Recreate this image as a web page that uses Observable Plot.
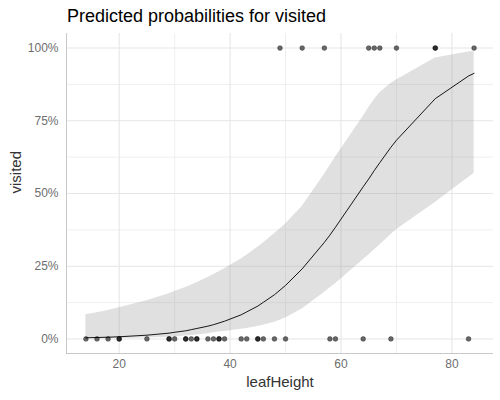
<!DOCTYPE html>
<html>
<head>
<meta charset="utf-8">
<script src="https://cdn.jsdelivr.net/npm/d3@7"></script>
<script src="https://cdn.jsdelivr.net/npm/@observablehq/plot@0.6"></script>
<style>
  html, body { margin: 0; padding: 0; background: #fff; }
  #title { box-sizing: border-box; height: 28px; padding: 7px 0 0 67px; font: 18px/18px "Liberation Sans", Arial, sans-serif; color: #000; }
  svg { display: block; }
</style>
</head>
<body>
<div id="title">Predicted probabilities for visited</div>
<div id="chart"></div>
<script>
// fitted curve at each observed leafHeight
const fitX  = [14,16,18,20,25,29,30,32,33,34,36,37,38,39,42,43,45,46,48,49,50,53,57,58,59,64,65,66,67,69,70,77,83,84];
const fitP  = [0.004,0.005,0.006,0.0075,0.013,0.020,0.023,0.028,0.032,0.036,0.044,0.049,0.055,0.061,0.083,0.093,0.113,0.126,0.152,0.168,0.184,0.241,0.332,0.357,0.384,0.523,0.550,0.579,0.606,0.659,0.683,0.826,0.904,0.913];
const fitLo = [0.0004,0.0006,0.0009,0.0013,0.003,0.006,0.007,0.010,0.012,0.014,0.018,0.021,0.024,0.026,0.033,0.036,0.043,0.047,0.057,0.064,0.072,0.103,0.160,0.175,0.190,0.272,0.289,0.306,0.323,0.358,0.375,0.469,0.555,0.569];
const fitHi = [0.083,0.090,0.098,0.107,0.131,0.155,0.163,0.177,0.185,0.193,0.211,0.221,0.231,0.241,0.275,0.288,0.315,0.330,0.362,0.378,0.395,0.455,0.565,0.595,0.625,0.765,0.795,0.822,0.846,0.878,0.890,0.966,0.986,0.988];

// observations
const notVisitedX = [14,16,18,20,20,25,29,29,30,32,32,33,34,34,36,37,38,38,39,42,43,45,45,46,48,50,58,59,64,69,83];
const visitedX    = [49,53,57,65,66,67,70,77,77,84];

// axes
const xTicks = [20,40,60,80];
const xMinor = [30,50,70];
const yTicks = [0,0.25,0.5,0.75,1];
const yMinor = [0.125,0.375,0.625,0.875];
const xDomain = [10.5,87.5];
const yDomain = [-0.05,1.05];

const fit = fitX.map((x,i) => ({x, p: fitP[i], lo: fitLo[i], hi: fitHi[i]}));
const obs = [
  ...notVisitedX.map(x => ({x, v: 0})),
  ...visitedX.map(x => ({x, v: 1}))
];

const chart = Plot.plot({
  width: 500,
  height: 372,
  marginLeft: 66,
  marginRight: 7,
  marginTop: 5,
  marginBottom: 47,
  style: {fontFamily: '"Liberation Sans", Arial, sans-serif', background: "#fff"},
  x: {domain: xDomain},
  y: {domain: yDomain},
  marks: [
    Plot.ruleX(xMinor, {stroke: "#efefef", strokeWidth: 1}),
    Plot.ruleY(yMinor, {stroke: "#efefef", strokeWidth: 1}),
    Plot.gridX(xTicks, {stroke: "#e6e6e6", strokeOpacity: 1, strokeWidth: 1.1}),
    Plot.gridY(yTicks, {stroke: "#e6e6e6", strokeOpacity: 1, strokeWidth: 1.1}),
    Plot.areaY(fit, {x: "x", y1: "lo", y2: "hi", fill: "#999", fillOpacity: 0.3}),
    Plot.line(fit, {x: "x", y: "p", stroke: "#000", strokeWidth: 0.9}),
    Plot.dot(obs, {x: "x", y: "v", r: 2.4, fill: "#000", fillOpacity: 0.58, stroke: "#000", strokeOpacity: 0.58, strokeWidth: 0.6}),
    Plot.ruleX([xDomain[0]], {stroke: "#c8c8c8", strokeWidth: 1}),
    Plot.ruleY([yDomain[0]], {stroke: "#c8c8c8", strokeWidth: 1}),
    Plot.axisX(xTicks, {tickSize: 0, tickPadding: 6, fontSize: 12, fill: "#6e6e6e", label: null}),
    Plot.axisY(yTicks, {tickSize: 0, tickPadding: 8, fontSize: 12, fill: "#6e6e6e", label: null, tickFormat: d3.format(".0%")}),
    Plot.text(["leafHeight"], {frameAnchor: "bottom", dy: 33, fontSize: 15, fill: "#333"}),
    Plot.text(["visited"], {frameAnchor: "left", dx: -50, rotate: -90, fontSize: 15, fill: "#333"})
  ]
});
document.getElementById("chart").appendChild(chart);
</script>
</body>
</html>
